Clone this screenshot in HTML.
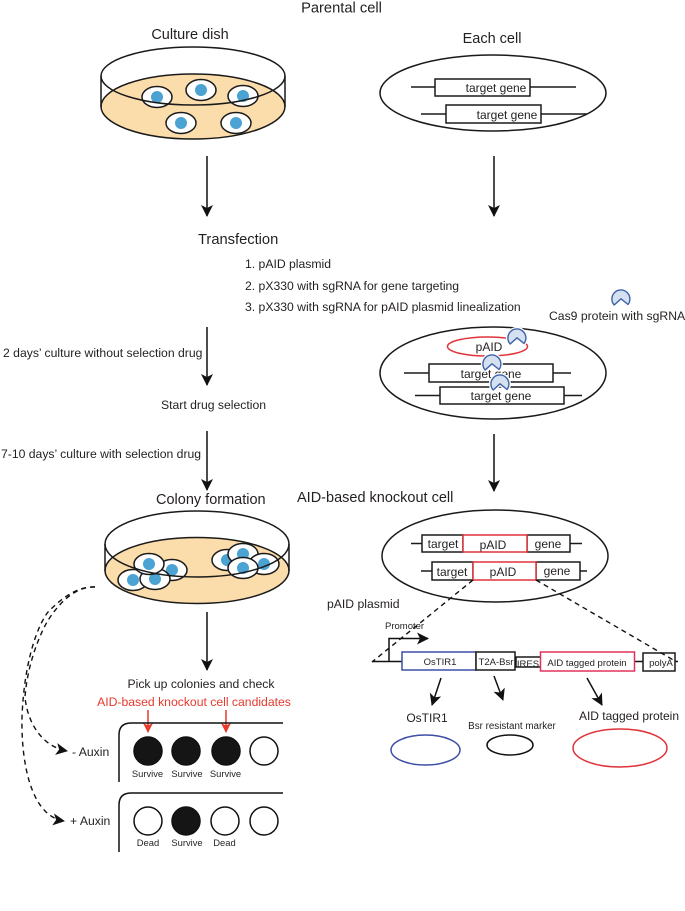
<!DOCTYPE html>
<html><head><meta charset="utf-8">
<style>
html,body{margin:0;padding:0;background:#fff}
svg{display:block}
text{font-family:"Liberation Sans",sans-serif;fill:#231f20}
</style></head>
<body>
<svg xmlns="http://www.w3.org/2000/svg" width="685" height="911" viewBox="0 0 685 911">
<defs>
<g id="cell"><ellipse rx="15" ry="10.5" fill="#fff" stroke="#1a1a1a" stroke-width="1.5"/><circle r="6" fill="#4ba3d3"/></g>
<g id="cas"><path d="M-5.8 8 A9 9 0 1 1 8 7.500 L1 1.800 Z" fill="none" stroke="#fff" stroke-width="4" stroke-linejoin="round"/><path d="M-5.8 8 A9 9 0 1 1 8 7.500 L1 1.800 Z" fill="#d5e0f0" stroke="#3d63a8" stroke-width="1.400" stroke-linejoin="round"/></g>
<marker id="ah" markerWidth="12" markerHeight="12" refX="9" refY="5" orient="auto" markerUnits="userSpaceOnUse"><path d="M0 0 L10 5 L0 10 L2.5 5Z" fill="#111"/></marker>
<marker id="ahb" markerWidth="14" markerHeight="14" refX="11" refY="6" orient="auto" markerUnits="userSpaceOnUse"><path d="M0 0 L12 6 L0 12 L3 6Z" fill="#111"/></marker>
<marker id="ahr" markerWidth="12" markerHeight="12" refX="9" refY="5" orient="auto" markerUnits="userSpaceOnUse"><path d="M0 0 L10 5 L0 10 L2.5 5Z" fill="#e8392c"/></marker>
</defs>

<text x="341.500" y="12.500" font-size="14.700" text-anchor="middle">Parental cell</text>
<text x="190" y="39" font-size="14.500" text-anchor="middle">Culture dish</text>
<text x="492" y="43" font-size="14.500" text-anchor="middle">Each cell</text>

<!-- dish 1 -->
<ellipse cx="193" cy="106.500" rx="92" ry="32.500" fill="#fbdcab" stroke="#1a1a1a" stroke-width="1.500"/>
<use href="#cell" x="157" y="97"/><use href="#cell" x="201" y="90"/><use href="#cell" x="243" y="96"/><use href="#cell" x="181" y="123"/><use href="#cell" x="236" y="123"/>
<ellipse cx="193" cy="76" rx="92" ry="29" fill="none" stroke="#1a1a1a" stroke-width="1.500"/>
<path d="M101 76V107M285 76V107" stroke="#1a1a1a" stroke-width="1.500"/>

<!-- each cell -->
<ellipse cx="493" cy="93" rx="113" ry="38" fill="#fff" stroke="#1a1a1a" stroke-width="1.500"/>
<path d="M411 87H576M421 114H587" stroke="#1a1a1a" stroke-width="1.500"/>
<rect x="435" y="79" width="95" height="17" fill="#fff" stroke="#1a1a1a" stroke-width="1.500"/>
<rect x="446" y="105" width="95" height="18" fill="#fff" stroke="#1a1a1a" stroke-width="1.500"/>
<text x="496" y="92" font-size="12" text-anchor="middle">target gene</text>
<text x="507" y="119" font-size="12" text-anchor="middle">target gene</text>

<!-- main arrows -->
<g stroke="#111" stroke-width="1.500" fill="none">
<path d="M207 156V216" marker-end="url(#ahb)"/>
<path d="M494 156V216" marker-end="url(#ahb)"/>
<path d="M207 327V385" marker-end="url(#ahb)"/>
<path d="M207 431V490" marker-end="url(#ahb)"/>
<path d="M494 434V491" marker-end="url(#ahb)"/>
<path d="M207 612V670" marker-end="url(#ahb)"/>
</g>

<text x="198" y="244" font-size="14.700">Transfection</text>
<text x="245" y="268" font-size="12.200">1. pAID plasmid</text>
<text x="245" y="290" font-size="12.200">2. pX330 with sgRNA for gene targeting</text>
<text x="245" y="311" font-size="12.200">3. pX330 with sgRNA for pAID plasmid linealization</text>
<use href="#cas" x="620" y="297"/>
<text x="549" y="320" font-size="12.200">Cas9 protein with sgRNA</text>
<text x="3" y="357" font-size="12.200">2 days’ culture without selection drug</text>
<text x="161" y="409" font-size="12.200">Start drug selection</text>
<text x="1" y="458" font-size="12.200">7-10 days’ culture with selection drug</text>
<text x="156" y="504" font-size="14.500">Colony formation</text>
<text x="297" y="502" font-size="14.500">AID-based knockout cell</text>

<!-- transfected cell -->
<ellipse cx="493" cy="373" rx="113" ry="46" fill="#fff" stroke="#1a1a1a" stroke-width="1.500"/>
<ellipse cx="487.500" cy="346.500" rx="40" ry="9.500" fill="none" stroke="#e0323a" stroke-width="1.500"/>
<text x="489" y="351" font-size="12" text-anchor="middle">pAID</text>
<path d="M404 373H571M415 395.500H582" stroke="#1a1a1a" stroke-width="1.500"/>
<rect x="429" y="364" width="124" height="18" fill="#fff" stroke="#1a1a1a" stroke-width="1.500"/>
<rect x="440" y="387" width="124" height="17" fill="#fff" stroke="#1a1a1a" stroke-width="1.500"/>
<text x="491" y="378" font-size="12" text-anchor="middle">target gene</text>
<text x="501" y="400" font-size="12" text-anchor="middle">target gene</text>
<use href="#cas" x="516" y="336"/><use href="#cas" x="491" y="362"/><use href="#cas" x="499" y="382"/>

<!-- dish 2 -->
<ellipse cx="197" cy="570.500" rx="92" ry="33" fill="#fbdcab" stroke="#1a1a1a" stroke-width="1.500"/>
<use href="#cell" x="227" y="560"/><use href="#cell" x="172" y="570"/><use href="#cell" x="133" y="580"/><use href="#cell" x="155" y="579"/><use href="#cell" x="149" y="564"/><use href="#cell" x="243" y="554"/><use href="#cell" x="264" y="564"/><use href="#cell" x="243" y="568"/>
<ellipse cx="197" cy="544" rx="92" ry="33" fill="none" stroke="#1a1a1a" stroke-width="1.500"/>
<path d="M105 544V571M289 544V571" stroke="#1a1a1a" stroke-width="1.500"/>

<!-- knockout cell -->
<ellipse cx="495" cy="556" rx="113" ry="46" fill="#fff" stroke="#1a1a1a" stroke-width="1.500"/>
<path d="M411 543.500H582M421 571H587" stroke="#1a1a1a" stroke-width="1.500"/>
<g fill="#fff" stroke-width="1.500">
<rect x="422" y="535" width="41" height="17" stroke="#1a1a1a"/><rect x="527" y="535" width="43" height="17" stroke="#1a1a1a"/><rect x="463" y="535" width="64" height="17" stroke="#e0323a"/>
<rect x="432" y="562" width="41" height="18" stroke="#1a1a1a"/><rect x="536" y="562" width="44" height="18" stroke="#1a1a1a"/><rect x="473" y="562" width="63" height="18" stroke="#e0323a"/>
</g>
<g font-size="12" text-anchor="middle">
<text x="443" y="548">target</text><text x="493" y="549">pAID</text><text x="548" y="548">gene</text>
<text x="452" y="576">target</text><text x="503" y="576">pAID</text><text x="557" y="575">gene</text>
</g>
<text x="327" y="608" font-size="12.200">pAID plasmid</text>
<text x="385" y="629" font-size="9.500">Promoter</text>
<path d="M372 661.500H402" stroke="#111" stroke-width="1.500"/>
<path d="M389 661V638.500H428" fill="none" stroke="#111" stroke-width="1.500" marker-end="url(#ahb)"/>
<path d="M634 661.500H643M675 661.500H678" stroke="#111" stroke-width="1.500"/>
<g fill="#fff" stroke-width="1.500">
<rect x="402" y="652" width="74" height="18" stroke="#3d4fa5"/>
<rect x="476" y="652" width="39" height="18" stroke="#1a1a1a"/>
<rect x="516" y="657" width="25" height="10" stroke="#1a1a1a"/>
<rect x="540.500" y="652" width="94" height="19" stroke="#e0325a"/>
<rect x="643" y="653" width="32" height="18" stroke="#1a1a1a"/>
</g>
<g text-anchor="middle" font-size="9.500">
<text x="440" y="665">OsTIR1</text>
<text x="496" y="665">T2A-Bsr</text>
<text x="528" y="667">IRES</text>
<text x="587" y="666">AID tagged protein</text>
<text x="661" y="666">polyA</text>
</g>
<path d="M473 580L372 662M536 580L675 661" fill="none" stroke="#111" stroke-width="1.400" stroke-dasharray="5 4"/>
<g stroke="#111" stroke-width="1.500" fill="none">
<path d="M441 678L432 705" marker-end="url(#ahb)"/>
<path d="M494 676L503 700" marker-end="url(#ahb)"/>
<path d="M587 678L602 705" marker-end="url(#ahb)"/>
</g>
<text x="427" y="722" font-size="12" text-anchor="middle">OsTIR1</text>
<text x="512" y="729" font-size="9.800" text-anchor="middle">Bsr resistant marker</text>
<text x="629" y="720" font-size="12" text-anchor="middle">AID tagged protein</text>
<ellipse cx="425.500" cy="750" rx="34.500" ry="15" fill="none" stroke="#3d4fa5" stroke-width="1.500"/>
<ellipse cx="510" cy="745" rx="23" ry="10" fill="none" stroke="#111" stroke-width="1.500"/>
<ellipse cx="620" cy="748" rx="47" ry="19" fill="none" stroke="#e0323a" stroke-width="1.500"/>

<!-- bottom left -->
<text x="201" y="688" font-size="12.200" text-anchor="middle">Pick up colonies and check</text>
<text x="194" y="706" font-size="12.200" text-anchor="middle" style="fill:#e8392c">AID-based knockout cell candidates</text>
<g stroke="#e8392c" stroke-width="1.500" fill="none">
<path d="M148 710V732" marker-end="url(#ahr)"/>
<path d="M226 710V732" marker-end="url(#ahr)"/>
</g>
<path d="M119 782V735Q119 723 131 723H283M119 852V805Q119 793 131 793H283" fill="none" stroke="#111" stroke-width="1.500"/>
<g stroke="#111" stroke-width="1.500">
<circle cx="148" cy="751" r="14" fill="#151515"/><circle cx="186" cy="751" r="14" fill="#151515"/><circle cx="226" cy="751" r="14" fill="#151515"/><circle cx="264" cy="751" r="14" fill="#fff"/>
<circle cx="148" cy="821" r="14" fill="#fff"/><circle cx="186" cy="821" r="14" fill="#151515"/><circle cx="225" cy="821" r="14" fill="#fff"/><circle cx="264" cy="821" r="14" fill="#fff"/>
</g>
<g font-size="9.400" text-anchor="middle">
<text x="147.500" y="777">Survive</text><text x="187" y="777">Survive</text><text x="225.500" y="777">Survive</text>
<text x="148" y="846">Dead</text><text x="187" y="846">Survive</text><text x="224.500" y="846">Dead</text>
</g>
<text x="72" y="756" font-size="12.200">- Auxin</text>
<text x="70" y="825" font-size="12.200">+ Auxin</text>
<g fill="none" stroke="#111" stroke-width="1.400" stroke-dasharray="5 4">
<path d="M95 587C75 586 58 604 47 622C36 642 27 670 25 697C27 720 40 746 67 751" marker-end="url(#ahb)"/>
<path d="M95 587C75 586 58 602 48 612C36 628 24 665 22 717C21 760 30 816 64 821" marker-end="url(#ahb)"/>
</g>
</svg>
</body></html>
